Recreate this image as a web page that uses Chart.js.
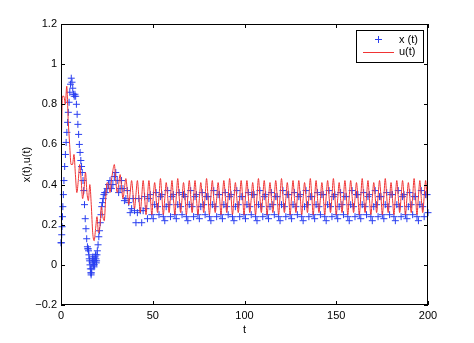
<!DOCTYPE html>
<html>
<head>
<meta charset="utf-8">
<script src="https://cdn.jsdelivr.net/npm/chart.js@4.4.1/dist/chart.umd.min.js"></script>
<style>
  html, body { margin: 0; padding: 0; background: #fff; }
  #chart { display: block; }
</style>
</head>
<body>
<canvas id="chart" width="474" height="343"></canvas>
<script>
// sample times (quarter periods of the forcing), shared by u(t) and the later x(t) markers
const tGrid = [
  0, 0.79, 1.57, 2.36, 3.14, 3.93, 4.71, 5.50,
  6.28, 7.07, 7.85, 8.64, 9.42, 10.21, 11.00, 11.78,
  12.57, 13.35, 14.14, 14.92, 15.71, 16.49, 17.28, 18.06,
  18.85, 19.63, 20.42, 21.21, 21.99, 22.78, 23.56, 24.35,
  25.13, 25.92, 26.70, 27.49, 28.27, 29.06, 29.85, 30.63,
  31.42, 32.20, 32.99, 33.77, 34.56, 35.34, 36.13, 36.91,
  37.70, 38.48, 39.27, 40.06, 40.84, 41.63, 42.41, 43.20,
  43.98, 44.77, 45.55, 46.34, 47.12, 47.91, 48.69, 49.48,
  50.27, 51.05, 51.84, 52.62, 53.41, 54.19, 54.98, 55.76,
  56.55, 57.33, 58.12, 58.90, 59.69, 60.48, 61.26, 62.05,
  62.83, 63.62, 64.40, 65.19, 65.97, 66.76, 67.54, 68.33,
  69.12, 69.90, 70.69, 71.47, 72.26, 73.04, 73.83, 74.61,
  75.40, 76.18, 76.97, 77.75, 78.54, 79.33, 80.11, 80.90,
  81.68, 82.47, 83.25, 84.04, 84.82, 85.61, 86.39, 87.18,
  87.96, 88.75, 89.54, 90.32, 91.11, 91.89, 92.68, 93.46,
  94.25, 95.03, 95.82, 96.60, 97.39, 98.17, 98.96, 99.75,
  100.53, 101.32, 102.10, 102.89, 103.67, 104.46, 105.24, 106.03,
  106.81, 107.60, 108.38, 109.17, 109.96, 110.74, 111.53, 112.31,
  113.10, 113.88, 114.67, 115.45, 116.24, 117.02, 117.81, 118.60,
  119.38, 120.17, 120.95, 121.74, 122.52, 123.31, 124.09, 124.88,
  125.66, 126.45, 127.23, 128.02, 128.81, 129.59, 130.38, 131.16,
  131.95, 132.73, 133.52, 134.30, 135.09, 135.87, 136.66, 137.45,
  138.23, 139.02, 139.80, 140.59, 141.37, 142.16, 142.94, 143.73,
  144.51, 145.30, 146.08, 146.87, 147.65, 148.44, 149.23, 150.01,
  150.80, 151.58, 152.37, 153.15, 153.94, 154.72, 155.51, 156.29,
  157.08, 157.86, 158.65, 159.44, 160.22, 161.01, 161.79, 162.58,
  163.36, 164.15, 164.93, 165.72, 166.50, 167.29, 168.07, 168.86,
  169.65, 170.43, 171.22, 172.00, 172.79, 173.57, 174.36, 175.14,
  175.93, 176.71, 177.50, 178.29, 179.07, 179.86, 180.64, 181.43,
  182.21, 183.00, 183.78, 184.57, 185.35, 186.14, 186.92, 187.71,
  188.50, 189.28, 190.07, 190.85, 191.64, 192.42, 193.21, 193.99,
  194.78, 195.56, 196.35, 197.13, 197.92, 198.71, 199.49, 200
];

// u(t), red line
const uValues = [
  0.50, 0.84, 0.84, 0.80, 0.89, 0.72, 0.60, 0.50,
  0.50, 0.55, 0.45, 0.36, 0.42, 0.50, 0.42, 0.33,
  0.38, 0.46, 0.36, 0.32, 0.40, 0.30, 0.16, 0.12,
  0.18, 0.24, 0.16, 0.19, 0.29, 0.24, 0.22, 0.33,
  0.41, 0.40, 0.36, 0.42, 0.47, 0.50, 0.42, 0.36,
  0.40, 0.45, 0.39, 0.33, 0.38, 0.43, 0.37, 0.30,
  0.36, 0.42, 0.35, 0.28, 0.35, 0.42, 0.34, 0.26,
  0.34, 0.42, 0.34, 0.25, 0.34, 0.42, 0.34, 0.25,
  0.34, 0.41, 0.33, 0.26, 0.34, 0.43, 0.34, 0.25,
  0.33, 0.41, 0.34, 0.26, 0.34, 0.42, 0.33, 0.25,
  0.34, 0.43, 0.34, 0.26, 0.33, 0.41, 0.34, 0.25,
  0.34, 0.42, 0.34, 0.26, 0.34, 0.42, 0.33, 0.25,
  0.33, 0.41, 0.34, 0.26, 0.34, 0.43, 0.34, 0.25,
  0.34, 0.42, 0.33, 0.26, 0.33, 0.41, 0.34, 0.25,
  0.34, 0.42, 0.34, 0.26, 0.34, 0.43, 0.34, 0.25,
  0.33, 0.41, 0.33, 0.26, 0.34, 0.42, 0.34, 0.25,
  0.34, 0.42, 0.34, 0.26, 0.33, 0.41, 0.33, 0.25,
  0.34, 0.43, 0.34, 0.26, 0.34, 0.42, 0.34, 0.25,
  0.33, 0.41, 0.33, 0.26, 0.34, 0.42, 0.34, 0.25,
  0.34, 0.43, 0.34, 0.26, 0.33, 0.41, 0.34, 0.25,
  0.34, 0.42, 0.33, 0.26, 0.34, 0.42, 0.34, 0.25,
  0.33, 0.41, 0.34, 0.26, 0.34, 0.43, 0.34, 0.25,
  0.34, 0.42, 0.33, 0.26, 0.33, 0.41, 0.34, 0.25,
  0.34, 0.42, 0.34, 0.26, 0.34, 0.43, 0.34, 0.25,
  0.33, 0.41, 0.33, 0.26, 0.34, 0.42, 0.34, 0.25,
  0.34, 0.42, 0.34, 0.26, 0.33, 0.41, 0.34, 0.25,
  0.34, 0.43, 0.34, 0.26, 0.34, 0.42, 0.33, 0.25,
  0.33, 0.41, 0.34, 0.26, 0.34, 0.42, 0.34, 0.25,
  0.34, 0.43, 0.34, 0.26, 0.33, 0.41, 0.33, 0.25,
  0.34, 0.42, 0.34, 0.26, 0.34, 0.42, 0.34, 0.25,
  0.33, 0.41, 0.34, 0.26, 0.34, 0.43, 0.34, 0.25,
  0.34, 0.42, 0.33, 0.26, 0.34, 0.42, 0.34, 0.29
];

// x(t) markers on the same grid (the transient is in the dense arrays below)
const xValues = [
  null, null, null, null, null, null, null, null,
  null, null, null, null, null, null, null, null,
  null, null, null, null, null, null, null, null,
  null, null, null, null, null, null, null, 0.36,
  0.38, 0.40, 0.42, 0.38, 0.40, 0.44, 0.46, 0.42,
  0.36, 0.38, 0.42, 0.38, 0.32, 0.33, 0.37, 0.31,
  0.26, 0.28, 0.33, 0.27, 0.21, 0.26, 0.33, 0.27,
  0.21, 0.27, 0.34, 0.28, 0.23, 0.33, 0.35, 0.25,
  0.23, 0.30, 0.36, 0.29, 0.25, 0.34, 0.35, 0.24,
  0.22, 0.29, 0.37, 0.30, 0.24, 0.34, 0.35, 0.25,
  0.23, 0.30, 0.36, 0.29, 0.25, 0.35, 0.34, 0.24,
  0.22, 0.30, 0.37, 0.29, 0.24, 0.34, 0.35, 0.25,
  0.23, 0.29, 0.36, 0.30, 0.25, 0.34, 0.34, 0.24,
  0.22, 0.30, 0.37, 0.29, 0.24, 0.35, 0.35, 0.25,
  0.23, 0.30, 0.36, 0.29, 0.25, 0.34, 0.35, 0.24,
  0.22, 0.29, 0.37, 0.30, 0.24, 0.34, 0.34, 0.25,
  0.23, 0.30, 0.36, 0.29, 0.25, 0.35, 0.35, 0.24,
  0.22, 0.30, 0.37, 0.29, 0.24, 0.34, 0.35, 0.25,
  0.23, 0.29, 0.36, 0.30, 0.25, 0.34, 0.34, 0.24,
  0.22, 0.30, 0.37, 0.29, 0.24, 0.35, 0.35, 0.25,
  0.23, 0.30, 0.36, 0.29, 0.25, 0.34, 0.35, 0.24,
  0.22, 0.29, 0.37, 0.30, 0.24, 0.34, 0.34, 0.25,
  0.23, 0.30, 0.36, 0.29, 0.25, 0.35, 0.35, 0.24,
  0.22, 0.30, 0.37, 0.29, 0.24, 0.34, 0.35, 0.25,
  0.23, 0.29, 0.36, 0.30, 0.25, 0.34, 0.34, 0.24,
  0.22, 0.30, 0.37, 0.29, 0.24, 0.35, 0.35, 0.25,
  0.23, 0.30, 0.36, 0.29, 0.25, 0.34, 0.35, 0.24,
  0.22, 0.29, 0.37, 0.30, 0.24, 0.34, 0.34, 0.25,
  0.23, 0.30, 0.36, 0.29, 0.25, 0.35, 0.35, 0.24,
  0.22, 0.30, 0.37, 0.29, 0.24, 0.34, 0.35, 0.25,
  0.23, 0.29, 0.36, 0.30, 0.25, 0.34, 0.34, 0.24,
  0.22, 0.30, 0.37, 0.29, 0.24, 0.35, 0.35, 0.26
];

// x(t) during the start-up transient (solver steps are short here)
const xEarlyTime = [
  0, 0.2, 0.4, 0.6, 0.8, 1.0, 1.3, 1.6,
  2.0, 2.4, 2.8, 3.2, 3.6, 4.0, 4.4, 4.8, 5.2, 5.6, 6.0, 6.4, 6.8, 7.2,
  7.6, 8.0, 8.4, 8.8, 9.2, 9.6, 10.0, 10.4, 10.8, 11.2, 11.6, 12.0, 12.4, 12.8,
  13.2, 13.6, 14.0,
  14.4, 14.6, 14.8, 15.0, 15.2, 15.4, 15.6, 15.8, 16.0, 16.2, 16.4, 16.6, 16.8, 17.0,
  17.2, 17.4, 17.6, 17.8, 18.0, 18.2, 18.4, 18.6, 18.8, 19.0, 19.2, 19.4, 19.6, 19.8,
  20.2, 20.6, 21.0, 21.4, 21.8, 22.2, 22.6, 23.0, 23.4, 23.8
];
const xEarlyValues = [
  0.11, 0.11, 0.15, 0.19, 0.24, 0.29, 0.35, 0.42,
  0.49, 0.55, 0.61, 0.66, 0.71, 0.76, 0.81, 0.86, 0.90, 0.93, 0.91, 0.88, 0.85, 0.84,
  0.85, 0.84, 0.80, 0.75, 0.70, 0.65, 0.60, 0.56, 0.52, 0.49, 0.46, 0.42, 0.37, 0.30,
  0.23, 0.18, 0.13,
  0.09, 0.08, 0.08, 0.07, 0.05, 0.03, 0.02, 0.00, -0.02, -0.04, -0.05, -0.04, -0.02, 0.01,
  0.03, 0.04, 0.02, 0.00, -0.01, 0.00, 0.02, 0.04, 0.05, 0.03, 0.01, 0.02, 0.05, 0.07,
  0.10, 0.14, 0.17, 0.21, 0.25, 0.29, 0.31, 0.33, 0.35, 0.36
];

const seriesNames = ["x (t)", "u(t)"];
const xTitle = "t";
const yTitle = "x(t),u(t)";

const blue = "#2a3ff0";
const red = "#f03434";
const fontFamily = "'Liberation Sans', Arial, Helvetica, sans-serif";

const uPoints = tGrid.map((t, i) => ({ x: t, y: uValues[i] }));
const xPoints = xEarlyTime.map((t, i) => ({ x: t, y: xEarlyValues[i] }))
    .concat(tGrid.map((t, i) => ({ x: t, y: xValues[i] })).filter(p => p.y !== null));

function yLabel(v) {
    const r = Math.round(v * 10) / 10;
    return (r < 0 ? "\u2212" : "") + Math.abs(r);
}

// box round the axes, ticks pointing inwards, and the legend in the top right corner
const matlabFrame = {
    id: "matlabFrame",
    afterDraw(chart) {
        const { ctx, chartArea: a, scales } = chart;
        const tick = 4;
        ctx.save();
        ctx.strokeStyle = "#000";
        ctx.lineWidth = 1;
        ctx.strokeRect(a.left + 0.5, a.top + 0.5, a.right - a.left - 1, a.bottom - a.top - 1);

        ctx.beginPath();
        scales.x.ticks.forEach(t => {
            const px = Math.round(scales.x.getPixelForValue(t.value)) + 0.5;
            ctx.moveTo(px, a.bottom);
            ctx.lineTo(px, a.bottom - tick);
            ctx.moveTo(px, a.top);
            ctx.lineTo(px, a.top + tick);
        });
        scales.y.ticks.forEach(t => {
            const py = Math.round(scales.y.getPixelForValue(t.value)) + 0.5;
            ctx.moveTo(a.left, py);
            ctx.lineTo(a.left + tick, py);
            ctx.moveTo(a.right, py);
            ctx.lineTo(a.right - tick, py);
        });
        ctx.stroke();

        // legend
        const bx = a.right - 72, by = a.top + 6, bw = 67, bh = 32;
        ctx.fillStyle = "#fff";
        ctx.fillRect(bx, by, bw, bh);
        ctx.strokeRect(bx + 0.5, by + 0.5, bw, bh);

        ctx.strokeStyle = blue;
        ctx.beginPath();
        const cx = bx + 22.5, cy = by + 9.5;
        ctx.moveTo(cx - 3.5, cy); ctx.lineTo(cx + 3.5, cy);
        ctx.moveTo(cx, cy - 3.5); ctx.lineTo(cx, cy + 3.5);
        ctx.stroke();

        ctx.strokeStyle = red;
        ctx.beginPath();
        ctx.moveTo(bx + 7, by + 22.5);
        ctx.lineTo(bx + 38, by + 22.5);
        ctx.stroke();

        ctx.fillStyle = "#000";
        ctx.font = "11px " + fontFamily;
        ctx.textBaseline = "middle";
        ctx.textAlign = "left";
        ctx.fillText(seriesNames[0], bx + 43, cy);
        ctx.fillText(seriesNames[1], bx + 43, by + 22);
        ctx.restore();
    }
};

new Chart(document.getElementById("chart"), {
    type: "line",
    data: {
        datasets: [
            {
                label: seriesNames[0],
                data: xPoints,
                showLine: false,
                pointStyle: "cross",
                pointRadius: 3.5,
                pointBorderWidth: 1,
                pointBorderColor: blue,
                borderColor: blue,
                clip: false,
                order: 1
            },
            {
                label: seriesNames[1],
                data: uPoints,
                borderColor: red,
                borderWidth: 1,
                pointRadius: 0,
                cubicInterpolationMode: "monotone",
                fill: false,
                order: 0
            }
        ]
    },
    options: {
        responsive: false,
        animation: false,
        events: [],
        layout: { padding: { top: 24, right: 46, left: 0, bottom: 0 } },
        plugins: { legend: { display: false }, tooltip: { enabled: false } },
        scales: {
            x: {
                type: "linear",
                min: 0,
                max: 200,
                ticks: { stepSize: 50, color: "#000", padding: 4, maxRotation: 0,
                         font: { family: fontFamily, size: 11 } },
                grid: { display: false, drawTicks: false },
                border: { display: false },
                title: { display: true, text: xTitle, color: "#000",
                         font: { family: fontFamily, size: 11 }, padding: { top: 0, bottom: 6 } },
                afterFit: s => { s.height = 38; }
            },
            y: {
                type: "linear",
                min: -0.2,
                max: 1.2,
                ticks: { stepSize: 0.2, color: "#000", padding: 4, callback: yLabel,
                         font: { family: fontFamily, size: 11 } },
                grid: { display: false, drawTicks: false },
                border: { display: false },
                title: { display: true, text: yTitle, color: "#000",
                         font: { family: fontFamily, size: 11 }, padding: { top: 20, bottom: 0 } },
                afterFit: s => { s.width = 61; }
            }
        }
    },
    plugins: [matlabFrame]
});
</script>
</body>
</html>
